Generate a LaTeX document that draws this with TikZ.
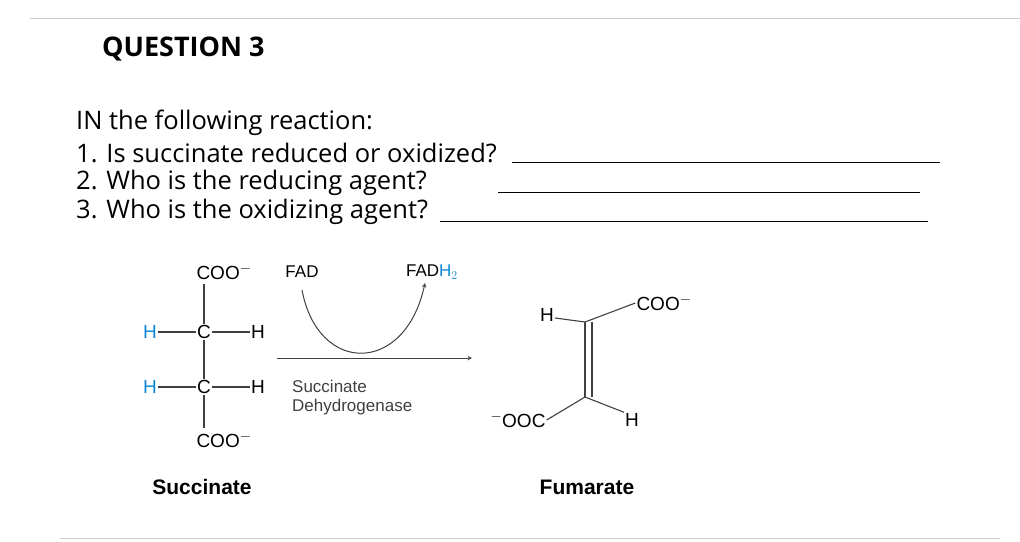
\documentclass[tikz,border=0pt]{standalone}
\usepackage{fontspec}
\setmainfont{Open Sans}
\newfontfamily\chem{Liberation Sans}
\begin{document}
\begin{tikzpicture}[x=1pt,y=-1pt,
  q/.style={anchor=west,inner sep=0,font=\fontsize{25.5}{28}\selectfont},
  ans/.style={line width=1pt},
  bond/.style={draw=black!75,line width=1.1pt},
  atm/.style={inner sep=1pt,font=\chem\fontsize{19}{20}\selectfont},
  lab/.style={inner sep=0,font=\chem\bfseries\fontsize{21}{22}\selectfont}]
\useasboundingbox (0,0) rectangle (1020,541);
\draw[black!20,line width=1pt] (30,18) -- (1020,18);
\draw[black!20,line width=1pt] (60,538) -- (1000,538);
\node[q,font=\bfseries\fontsize{27}{28}\selectfont] (title) at (102,49) {QUESTION 3};
\node[q] (t0) at (76,123) {IN the following reaction:};
\node[q] (t1) at (76,153) {1. Is succinate reduced or oxidized?};
\node[q] (t2) at (76,183) {2. Who is the reducing agent?};
\node[q] (t3) at (76,212) {3. Who is the oxidizing agent?};
\coordinate (a1) at (512,162); \coordinate (b1) at (940,162);
\coordinate (a2) at (498,192); \coordinate (b2) at (920,192);
\coordinate (a3) at (440,221); \coordinate (b3) at (928,221);
\draw[ans] (a1) -- (b1); \draw[ans] (a2) -- (b2); \draw[ans] (a3) -- (b3);
% succinate
\node[atm] (top) at (224,272) {COO$^{-}$};
\node[atm] (c1) at (204,332) {C};
\node[atm,text=cyan!70!blue] (h1) at (150,332) {H};
\node[atm] (h2) at (258,332) {H};
\node[atm] (c2) at (204,387) {C};
\node[atm,text=cyan!70!blue] (h3) at (150,387) {H};
\node[atm] (h4) at (258,387) {H};
\node[atm] (bot) at (224,440) {COO$^{-}$};
\draw[bond] (204,284) -- (c1); \draw[bond] (c1) -- (c2); \draw[bond] (c2) -- (204,428);
\draw[bond] (h1) -- (c1); \draw[bond] (c1) -- (h2);
\draw[bond] (h3) -- (c2); \draw[bond] (c2) -- (h4);
\node[lab] (sl) at (202,487) {Succinate};
% arrow
\node[atm,font=\chem\fontsize{17}{18}\selectfont] (fad) at (302,272) {FAD};
\node[atm,font=\chem\fontsize{17}{18}\selectfont] (fadh) at (432,272) {FAD\textcolor{cyan!70!blue}{H$_2$}};
\coordinate (ra) at (277,358); \coordinate (rb) at (472,358);
\draw[bond,-stealth,line width=1pt] (ra) -- (rb);
\draw[bond,-stealth,line width=1pt] (302,290) .. controls (318,375) and (405,375) .. (425,283);
\node[anchor=west,inner sep=0,font=\chem\fontsize{17}{19}\selectfont,text=black!75,align=left] (enz) at (292,398) {Succinate\\Dehydrogenase};
% fumarate
\coordinate (f1) at (585,322); \coordinate (f2) at (585,397);
\node[atm] (fh1) at (547,315) {H};
\node[atm] (fc1) at (664,303) {COO$^{-}$};
\node[atm] (fc2) at (518,420) {$^{-}$OOC};
\node[atm] (fh2) at (632,420) {H};
\draw[bond] (f1) -- (f2); \draw[bond] ([xshift=7]f1) -- ([xshift=7]f2);
\draw[bond] (555,318) -- (f1) -- (fc1.west);
\draw[bond] (fc2.east) -- (f2) -- (fh2.north west);
\node[lab] (fl) at (587,487) {Fumarate};
\end{tikzpicture}
\end{document}
